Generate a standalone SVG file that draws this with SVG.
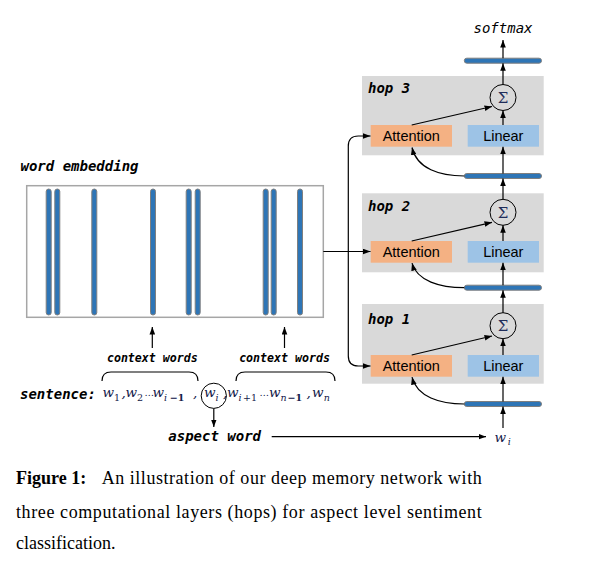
<svg xmlns="http://www.w3.org/2000/svg" width="593" height="566" viewBox="0 0 593 566">
<style>
.mono{font-family:"DejaVu Sans Mono","Liberation Mono",monospace;font-weight:bold;font-style:italic;font-size:14px;fill:#000}
.ctx{font-family:"DejaVu Sans Mono","Liberation Mono",monospace;font-weight:bold;font-style:italic;font-size:11.6px;fill:#000}
.soft{font-family:"DejaVu Sans Mono","Liberation Mono",monospace;font-style:italic;font-size:14px;fill:#000}
.hop{fill:#d9d9d9}
.att{fill:#f4b183}
.lin{fill:#9dc3e6}
.lbl{font-family:"Liberation Sans",Arial,sans-serif;font-size:14.5px;fill:#000;text-anchor:middle}
.bar{fill:#2e75b6;stroke:#7f7f7f;stroke-width:1}
.sig{fill:none;stroke:#000;stroke-width:1}
.sigt{font-family:"DejaVu Serif","Liberation Serif",serif;font-size:15px;fill:#1f2d5a;text-anchor:middle}
.ln{fill:none;stroke:#000;stroke-width:1.2}
.m{font-family:"DejaVu Serif","Liberation Serif",serif;font-style:italic;font-size:13.5px;fill:#14204a}
.ms{font-family:"DejaVu Serif","Liberation Serif",serif;font-size:9.5px;fill:#14204a}
.mi{font-style:italic}
.cap{font-family:"Liberation Serif","Times New Roman",serif;font-size:18px;fill:#000}
</style>
<defs>
<marker id="ah" viewBox="0 0 8 6" refX="8" refY="3" markerWidth="7.5" markerHeight="6" markerUnits="userSpaceOnUse" orient="auto-start-reverse">
<path d="M0,0 L8,3 L0,6 Z" fill="#000"/>
</marker>
</defs>

<g id="word-embedding">
<text class="mono" x="20.5" y="171">word embedding</text>
<rect x="26.7" y="185.7" width="296.6" height="131.6" fill="#fff" stroke="#a6a6a6" stroke-width="1.5"/>
<rect class="bar" x="46.2" y="189" width="5" height="126" rx="2.5"/>
<rect class="bar" x="54.8" y="189" width="5" height="126" rx="2.5"/>
<rect class="bar" x="91.8" y="189" width="5" height="126" rx="2.5"/>
<rect class="bar" x="150.5" y="189" width="5" height="126" rx="2.5"/>
<rect class="bar" x="186.2" y="189" width="5" height="126" rx="2.5"/>
<rect class="bar" x="195.2" y="189" width="5" height="126" rx="2.5"/>
<rect class="bar" x="263.2" y="189" width="5" height="126" rx="2.5"/>
<rect class="bar" x="271.2" y="189" width="5" height="126" rx="2.5"/>
<rect class="bar" x="297.5" y="189" width="5" height="126" rx="2.5"/>
</g>

<g id="context-left">
<text class="ctx" x="152.3" y="362" text-anchor="middle">context words</text>
<path class="ln" d="M102,381 Q102,372 111,372 L189,372 Q198,372 198,381"/>
</g>
<g id="context-right">
<text class="ctx" x="284.5" y="362" text-anchor="middle">context words</text>
<path class="ln" d="M236,381 Q236,372 245,372 L326,372 Q335,372 335,381"/>
</g>

<g id="sentence">
<text class="mono" x="20" y="399">sentence:</text>
<text class="m" x="102.5" y="397">w</text><text class="ms" x="114" y="400.5">1</text>
<text class="m" x="121.5" y="397">,</text>
<text class="m" x="125.5" y="397">w</text><text class="ms" x="137" y="400.5">2</text>
<text class="ms" x="144.5" y="396">…</text>
<text class="m" x="152.5" y="397">w</text><text class="ms mi" x="164" y="400.5">i</text><text class="ms" x="169.8" y="400.5" font-weight="bold">−1</text>
<text class="m" x="193" y="397">,</text>
<text class="m" x="223" y="397">,</text>
<text class="m" x="227" y="397">w</text><text class="ms mi" x="238.5" y="400.5">i</text><text class="ms" x="243" y="400.5">+1</text>
<text class="ms" x="259.5" y="396">…</text>
<text class="m" x="269" y="397">w</text><text class="ms mi" x="280.5" y="400.5">n</text><text class="ms" x="287.5" y="400.5" font-weight="bold">−1</text>
<text class="m" x="306.5" y="397">,</text>
<text class="m" x="312" y="397">w</text><text class="ms mi" x="323.8" y="400.5">n</text>
</g>

<g id="aspect">
<circle cx="213.8" cy="395.8" r="12.6" fill="none" stroke="#000" stroke-width="1"/>
<text class="m" x="204" y="397">w</text><text class="ms mi" x="215.6" y="400.5">i</text>
<text class="mono" x="168.3" y="440.7">aspect word</text>
</g>

<g id="hop3">
<rect class="hop" x="362" y="76" width="181.7" height="79.3"/>
<text class="mono" x="368" y="93">hop 3</text>
<rect class="att" x="370.7" y="125" width="81.3" height="21.7"/>
<text class="lbl" x="411.3" y="141">Attention</text>
<rect class="lin" x="467.7" y="125" width="71.3" height="21.7"/>
<text class="lbl" x="503.3" y="141">Linear</text>
<circle class="sig" cx="503" cy="97.5" r="13"/>
<text class="sigt" x="503" y="103">Σ</text>
</g>
<g id="hop2">
<rect class="hop" x="362" y="193.3" width="181.7" height="79"/>
<text class="mono" x="368" y="211">hop 2</text>
<rect class="att" x="370.7" y="241" width="81.3" height="21.7"/>
<text class="lbl" x="411.3" y="257">Attention</text>
<rect class="lin" x="467.7" y="241" width="71.3" height="21.7"/>
<text class="lbl" x="503.3" y="257">Linear</text>
<circle class="sig" cx="503" cy="212.3" r="13"/>
<text class="sigt" x="503" y="217.8">Σ</text>
</g>
<g id="hop1">
<rect class="hop" x="362" y="304" width="181.7" height="79.7"/>
<text class="mono" x="368" y="324">hop 1</text>
<rect class="att" x="370.7" y="355" width="81.3" height="21.7"/>
<text class="lbl" x="411.3" y="371">Attention</text>
<rect class="lin" x="467.7" y="355" width="71.3" height="21.7"/>
<text class="lbl" x="503.3" y="371">Linear</text>
<circle class="sig" cx="503" cy="325.7" r="13"/>
<text class="sigt" x="503" y="331.2">Σ</text>
</g>

<g id="memory-bars">
<rect class="bar" x="464.3" y="58.2" width="77.2" height="5" rx="2.5"/>
<rect class="bar" x="464.3" y="173.5" width="77.2" height="5" rx="2.5"/>
<rect class="bar" x="464.3" y="285.2" width="77.2" height="5" rx="2.5"/>
<rect class="bar" x="464.3" y="401.5" width="77.2" height="5" rx="2.5"/>
</g>

<g id="softmax">
<text class="soft" x="503" y="33" text-anchor="middle">softmax</text>
</g>
<g id="wi-query">
<text class="m" x="494.5" y="441.5" font-size="15.5">w</text><text class="ms mi" x="507.8" y="445" font-size="11">i</text>
</g>

<g id="connectors">
<line class="ln" x1="152.3" y1="348" x2="152.3" y2="327" marker-end="url(#ah)"/>
<line class="ln" x1="284.5" y1="348" x2="284.5" y2="327" marker-end="url(#ah)"/>
<line class="ln" x1="213.8" y1="408.4" x2="213.8" y2="427" marker-end="url(#ah)"/>
<line class="ln" x1="271.7" y1="436.7" x2="486" y2="436.7" marker-end="url(#ah)"/>
<line class="ln" x1="323.3" y1="251.5" x2="370.5" y2="251.5" marker-end="url(#ah)"/>
<path class="ln" d="M370.5,136 L358.3,136 Q348.3,136 348.3,146 L348.3,356 Q348.3,366 358.3,366 L370.5,366" marker-start="url(#ah)" marker-end="url(#ah)"/>

<line class="ln" x1="503" y1="428" x2="503" y2="406.5" marker-end="url(#ah)"/>
<line class="ln" x1="503" y1="401.5" x2="503" y2="376.7" marker-end="url(#ah)"/>
<line class="ln" x1="503" y1="355" x2="503" y2="338.7" marker-end="url(#ah)"/>
<line class="ln" x1="503" y1="312.7" x2="503" y2="290.2" marker-end="url(#ah)"/>
<line class="ln" x1="503" y1="285.2" x2="503" y2="262.7" marker-end="url(#ah)"/>
<line class="ln" x1="503" y1="241" x2="503" y2="225.3" marker-end="url(#ah)"/>
<line class="ln" x1="503" y1="199.3" x2="503" y2="178.5" marker-end="url(#ah)"/>
<line class="ln" x1="503" y1="173.5" x2="503" y2="146.7" marker-end="url(#ah)"/>
<line class="ln" x1="503" y1="125" x2="503" y2="110.5" marker-end="url(#ah)"/>
<line class="ln" x1="503" y1="84.5" x2="503" y2="63.2" marker-end="url(#ah)"/>
<line class="ln" x1="503" y1="58.2" x2="503" y2="40" marker-end="url(#ah)"/>

<line class="ln" x1="411.7" y1="125" x2="492" y2="106.5" marker-end="url(#ah)"/>
<line class="ln" x1="411.7" y1="241" x2="492" y2="222.3" marker-end="url(#ah)"/>
<line class="ln" x1="411.7" y1="355" x2="492" y2="336" marker-end="url(#ah)"/>

<path class="ln" d="M464.3,176 C440,176 417,169 412,147.5" marker-end="url(#ah)"/>
<path class="ln" d="M464.3,287.7 C440,287.7 417,281 412,263.2" marker-end="url(#ah)"/>
<path class="ln" d="M464.3,404 C440,404 417,397 412,377.2" marker-end="url(#ah)"/>
</g>

<g id="caption">
<text class="cap" x="16" y="484.3"><tspan font-weight="bold">Figure 1:</tspan></text>
<text class="cap" x="101.7" y="484.3" textLength="380" lengthAdjust="spacing">An illustration of our deep memory network with</text>
<text class="cap" x="16" y="517.7" textLength="465.7" lengthAdjust="spacing">three computational layers (hops) for aspect level sentiment</text>
<text class="cap" x="16" y="549.3">classification.</text>
</g>
</svg>
